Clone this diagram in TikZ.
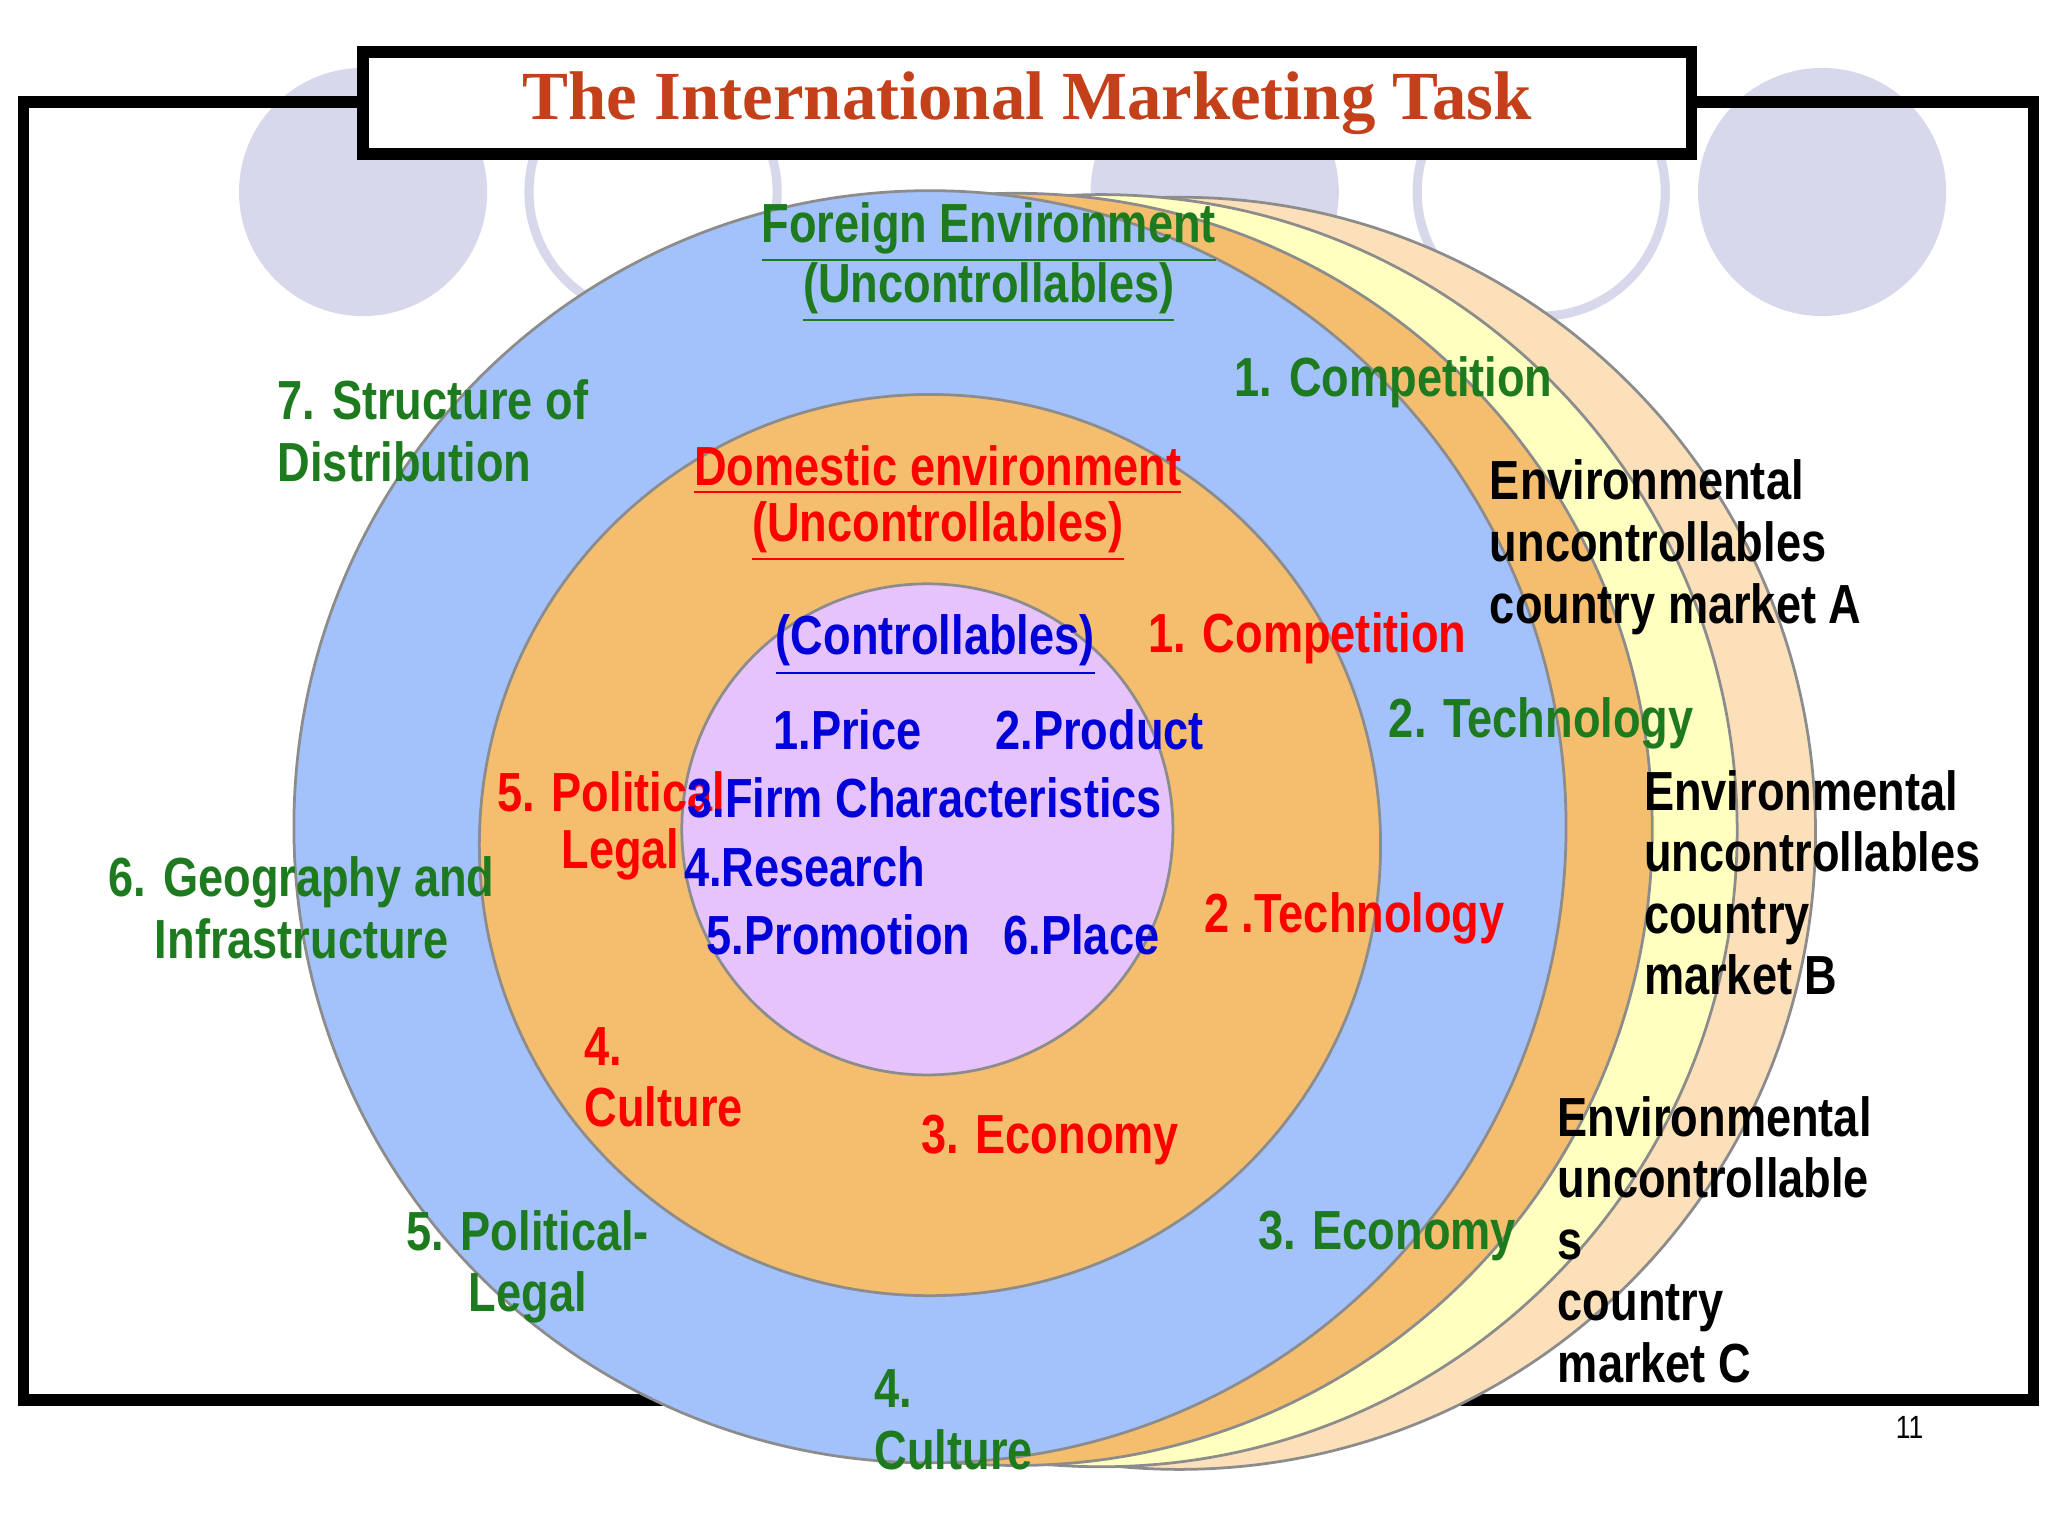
\documentclass[tikz,border=0pt]{standalone}
\usepackage{fontspec}
\setmainfont{Liberation Serif}
\setsansfont{Liberation Sans}[FakeStretch=0.82]
\usetikzlibrary{positioning}
\definecolor{deco}{RGB}{216,216,236}
\definecolor{peach}{RGB}{252,224,186}
\definecolor{paleyellow}{RGB}{255,255,192}
\definecolor{ringorange}{RGB}{245,190,110}
\definecolor{ringblue}{RGB}{163,193,250}
\definecolor{corelilac}{RGB}{230,195,250}
\definecolor{envgreen}{RGB}{30,122,30}
\definecolor{titlered}{RGB}{196,64,26}
\tikzset{
  ring/.style={draw=black!45, line width=0.6pt},
  lbl/.style={font=\sffamily\bfseries\fontsize{12}{13.4}\selectfont, inner sep=0pt},
  foreign/.style={lbl, text=envgreen},
  domestic/.style={lbl, text=red},
  ctrl/.style={lbl, text=blue!85!black},
  market/.style={lbl, text=black, align=left, anchor=west}
}
\begin{document}
\begin{tikzpicture}[x=1cm,y=-1cm]
\useasboundingbox (0,0) rectangle (15.68,11.76);
% decoration circles
\fill[deco] (2.78,1.47) circle (0.95);
\draw[deco, line width=2pt] (5.00,1.47) circle (0.95);
\fill[deco] (9.30,1.47) circle (0.95);
\draw[deco, line width=2pt] (11.80,1.47) circle (0.95);
\fill[deco] (13.95,1.47) circle (0.95);
% frame
\draw[line width=2.5pt] (0.18,0.78) rectangle (15.57,10.72);
\node[draw, line width=2.5pt, fill=white, minimum width=10.17cm, minimum height=0.78cm,
      font=\rmfamily\bfseries\fontsize{15}{18}\selectfont, text=titlered] (title) at (7.865,0.79)
      {\raisebox{-2pt}{The International Marketing Task}};
% rings
\filldraw[ring, fill=peach] (9.03,6.38) circle (4.87);
\filldraw[ring, fill=paleyellow] (8.43,6.36) circle (4.87);
\filldraw[ring, fill=ringorange] (7.78,6.35) circle (4.87);
\filldraw[ring, fill=ringblue] (7.12,6.33) circle (4.87);
\filldraw[ring, fill=ringorange] (7.12,6.47) circle (3.45);
\filldraw[ring, fill=corelilac] (7.10,6.35) circle (1.88);
% foreign environment
\node[foreign] (fe1) at (7.57,1.78) {\underline{Foreign Environment}};
\node[foreign] (fe2) at (7.57,2.24) {\underline{(Uncontrollables)}};
\node[foreign, align=left, anchor=west] (f7) at (2.12,3.30) {7. Structure of\\Distribution};
\node[foreign] (f1) at (10.67,2.93) {1. Competition};
\node[foreign] (f2) at (11.80,5.54) {2. Technology};
\node[foreign, align=center] (f6) at (2.31,6.95) {6. Geography and\\Infrastructure};
\node[foreign, align=center] (f5) at (4.04,9.70) {5. Political-\\Legal};
\node[foreign] (f3) at (10.62,9.46) {3. Economy};
\node[foreign, align=left, anchor=west] (f4) at (6.69,10.87) {4.\\Culture};
% domestic environment
\node[domestic] (de1) at (7.18,3.60) {\underline{Domestic environment}};
\node[domestic] (de2) at (7.18,4.07) {\underline{(Uncontrollables)}};
\node[domestic] (d1) at (10.01,4.89) {1. Competition};
\node[domestic] (d5a) at (4.68,6.06) {5. Political};
\node[domestic] (d5b) at (4.75,6.54) {Legal};
\node[domestic] (d2) at (10.37,7.03) {2 .Technology};
\node[domestic, align=left, anchor=west] (d4) at (4.47,8.25) {4.\\Culture};
\node[domestic] (d3) at (8.04,8.73) {3. Economy};
% controllables
\node[ctrl] (c0) at (7.16,4.94) {\underline{(Controllables)}};
\node[ctrl] (c1) at (6.49,5.59) {1.Price};
\node[ctrl] (c2) at (8.42,5.59) {2.Product};
\node[ctrl] (c3) at (7.08,6.11) {3.Firm Characteristics};
\node[ctrl] (c4) at (6.16,6.64) {4.Research};
\node[ctrl] (c5) at (6.42,7.16) {5.Promotion};
\node[ctrl] (c6) at (8.28,7.16) {6.Place};
% country markets
\node[market, lbl] (ma) at (11.40,4.19) {Environmental\\uncontrollables\\country market A};
\node[market, lbl] (mb) at (12.58,6.76) {Environmental\\uncontrollables\\country\\market B};
\node[market, lbl] (mc) at (11.92,9.49) {Environmental\\uncontrollable\\s\\country\\market C};
\node[font=\sffamily\fontsize{7}{8}\selectfont] (page) at (14.62,10.93) {11};
\end{tikzpicture}
\end{document}
